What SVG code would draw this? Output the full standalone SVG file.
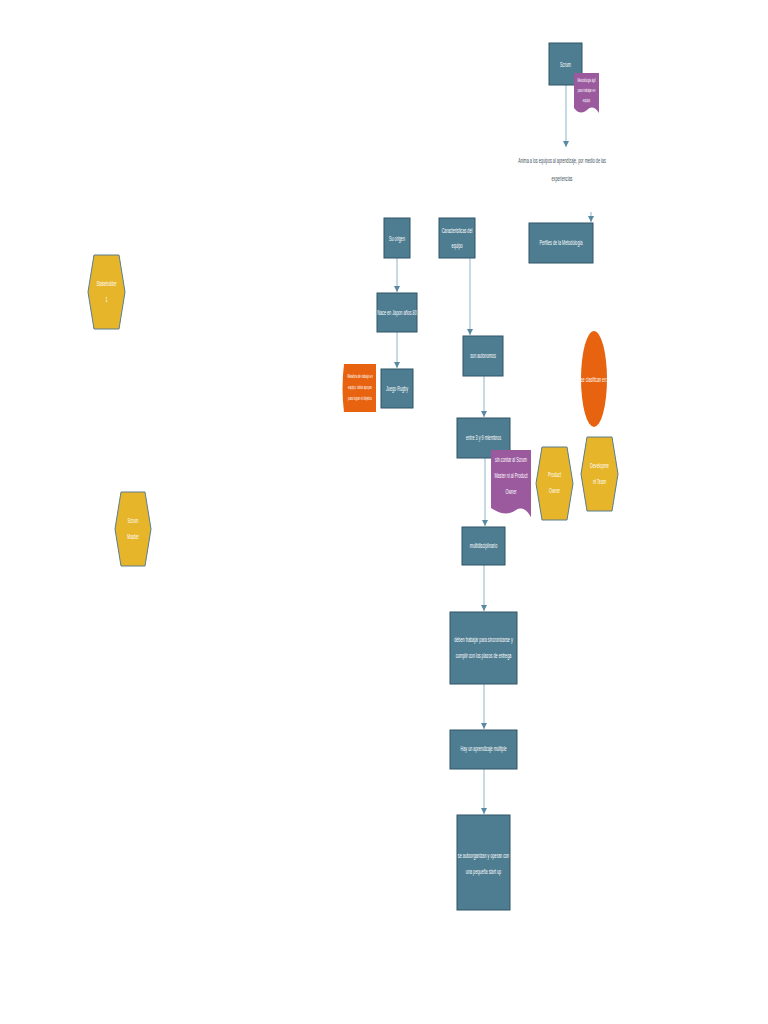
<svg xmlns="http://www.w3.org/2000/svg" width="768" height="1024" viewBox="0 0 768 1024">
<style>
.b{fill:#4e7d91;stroke:#2f5566;stroke-width:1}
.p{fill:#9b5a9e}
.o{fill:#e8630f}
.h{fill:#e6b52a;stroke:#5a7d8c;stroke-width:1}
text{font-family:"Liberation Sans",Arial,sans-serif;fill:#fff;font-size:7.5px;text-anchor:middle}
.k{fill:#40505a;font-size:7.5px}
.s{font-size:5px}
.c{stroke:#8fb3c6;stroke-width:1;fill:none}
</style>
<defs><marker id="d" markerWidth="6" markerHeight="8" refX="6" refY="3" orient="auto"><path d="M0,0L6,3L0,6Z" fill="#5a8aa3"/></marker></defs>
<g id="connectors">
<path class="c" marker-end="url(#d)" d="M566,85V147"/>
<path class="c" marker-end="url(#d)" d="M591,212V222"/>
<path class="c" marker-end="url(#d)" d="M397,258V292"/>
<path class="c" marker-end="url(#d)" d="M397,332V368"/>
<path class="c" marker-end="url(#d)" d="M470,258V335"/>
<path class="c" marker-end="url(#d)" d="M484,376V417"/>
<path class="c" marker-end="url(#d)" d="M485,458V526"/>
<path class="c" marker-end="url(#d)" d="M484,565V611"/>
<path class="c" marker-end="url(#d)" d="M484,684V729"/>
<path class="c" marker-end="url(#d)" d="M484,769V814"/>
</g>
<g id="scrum"><rect class="b" x="549" y="43" width="33" height="42"/><text transform="matrix(.5 0 0 1 565.5 0)" y="67">Scrum</text></g>
<g id="metodologia"><path class="p" d="M574,73H599V113Q593,104 587,110Q580,116 574,108Z"/><text class="s" transform="matrix(.5 0 0 1 586.5 0)" y="82">Metodologia ágil</text><text class="s" transform="matrix(.5 0 0 1 586.5 0)" y="92">para trabajar en</text><text class="s" transform="matrix(.5 0 0 1 586.5 0)" y="102">equipo</text></g>
<g id="anima"><text class="k" transform="matrix(.5 0 0 1 562 0)" y="163">Anima a los equipos al aprendizaje, por medio de las</text><text class="k" transform="matrix(.5 0 0 1 562 0)" y="181">experiencias</text></g>
<g id="perfiles"><rect class="b" x="529" y="223" width="64" height="40"/><text transform="matrix(.5 0 0 1 561 0)" y="245">Perfiles de la Metodología</text></g>
<g id="origen"><rect class="b" x="384" y="218" width="26" height="40"/><text transform="matrix(.5 0 0 1 397 0)" y="241">Su origen</text></g>
<g id="nace"><rect class="b" x="377" y="293" width="40" height="39"/><text transform="matrix(.5 0 0 1 397 0)" y="315">Nace en Japon años 80</text></g>
<g id="rugby"><rect class="b" x="381" y="369" width="32" height="39"/><text transform="matrix(.5 0 0 1 397 0)" y="391">Juego Rugby</text></g>
<g id="metafora"><path class="o" d="M344,364H376V412H344Q341,388 344,364Z"/><text class="s" transform="matrix(.5 0 0 1 360 0)" y="378">Metafora de trabajo en</text><text class="s" transform="matrix(.5 0 0 1 360 0)" y="389">equipo, todos apoyan</text><text class="s" transform="matrix(.5 0 0 1 360 0)" y="400">para lograr el objetivo</text></g>
<g id="caracteristicas"><rect class="b" x="439" y="218" width="36" height="40"/><text transform="matrix(.5 0 0 1 457 0)" y="233">Caracteristicas  del</text><text transform="matrix(.5 0 0 1 457 0)" y="248">equipo</text></g>
<g id="autonomos"><rect class="b" x="463" y="336" width="40" height="40"/><text transform="matrix(.5 0 0 1 483 0)" y="358">son autonomos</text></g>
<g id="miembros"><rect class="b" x="457" y="418" width="53" height="40"/><text transform="matrix(.5 0 0 1 483.5 0)" y="440">entre 3 y 9 miembros</text></g>
<g id="sincontar"><path class="p" d="M491,450H531V517Q524,505 516,510Q506,518 491,508Z"/><text transform="matrix(.5 0 0 1 511 0)" y="462">sin contar al Scrum</text><text transform="matrix(.5 0 0 1 511 0)" y="478">Master ni al Product</text><text transform="matrix(.5 0 0 1 511 0)" y="494">Owner</text></g>
<g id="po"><path class="h" d="M542,447H567L573,483.5L567,520H542L536,483.5Z"/><text transform="matrix(.5 0 0 1 554.5 0)" y="477">Product</text><text transform="matrix(.5 0 0 1 554.5 0)" y="493">Owner</text></g>
<g id="dt"><path class="h" d="M587,437H612L618,474L612,511H587L581,474Z"/><text transform="matrix(.5 0 0 1 599.5 0)" y="468">Developme</text><text transform="matrix(.5 0 0 1 599.5 0)" y="484">nt Team</text></g>
<g id="clasifican"><ellipse class="o" cx="594" cy="379" rx="13" ry="48"/><text transform="matrix(.5 0 0 1 594 0)" y="382">se clasifican en:</text></g>
<g id="multi"><rect class="b" x="462" y="527" width="43" height="38"/><text transform="matrix(.5 0 0 1 483.5 0)" y="548">multidisciplinario</text></g>
<g id="deben"><rect class="b" x="450" y="612" width="67" height="72"/><text transform="matrix(.5 0 0 1 483.5 0)" y="642">deben trabajar para sincronizarse y</text><text transform="matrix(.5 0 0 1 483.5 0)" y="658">cumplir con los plazos de entrega</text></g>
<g id="hay"><rect class="b" x="450" y="730" width="67" height="39"/><text transform="matrix(.5 0 0 1 483.5 0)" y="751">Hay un aprendizaje multiple</text></g>
<g id="auto"><rect class="b" x="457" y="815" width="53" height="95"/><text transform="matrix(.5 0 0 1 483.5 0)" y="858">se autoorganizan y operan con</text><text transform="matrix(.5 0 0 1 483.5 0)" y="874">una pequeña start up</text></g>
<g id="stakeholder"><path class="h" d="M94,255H119L125,292L119,329H94L88,292Z"/><text transform="matrix(.5 0 0 1 106.5 0)" y="286">Stakeholder</text><text transform="matrix(.5 0 0 1 106.5 0)" y="302">1</text></g>
<g id="scrummaster"><path class="h" d="M121,492H145L151,529L145,566H121L115,529Z"/><text transform="matrix(.5 0 0 1 133 0)" y="523">Scrum</text><text transform="matrix(.5 0 0 1 133 0)" y="539">Master</text></g>
</svg>
